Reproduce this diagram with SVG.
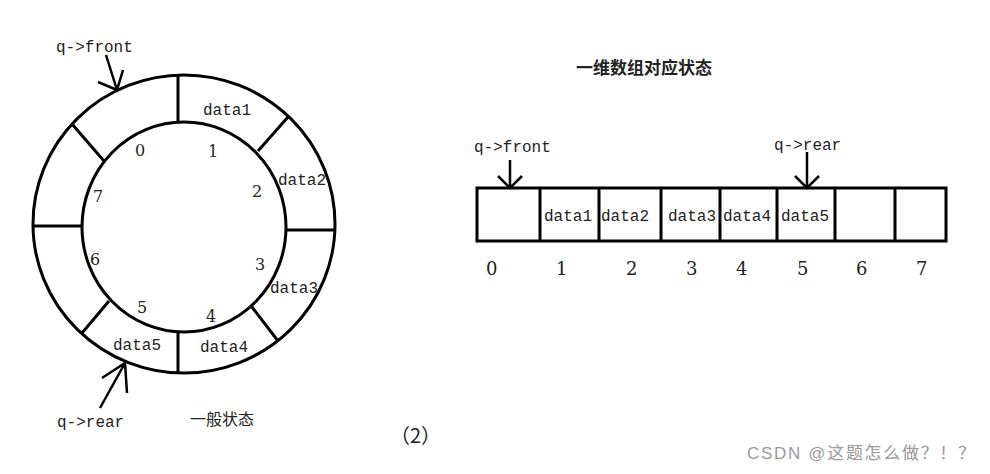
<svg xmlns="http://www.w3.org/2000/svg" width="990" height="474" viewBox="0 0 990 474">
<style>
.s{fill:none;stroke:#000;stroke-width:3}
.a{fill:none;stroke:#000;stroke-width:2.5}
text{font-family:"Liberation Mono","DejaVu Sans Mono","Noto Sans CJK SC",monospace;font-size:16px;fill:#222}
.n{font-family:"DejaVu Serif","Liberation Serif",serif;font-size:16px}
.b{font-size:18px}
.c{font-family:"Noto Sans CJK SC",sans-serif}
</style>
<rect width="990" height="474" fill="#fff"/>
<g id="ring">
<ellipse class="s" cx="184" cy="224" rx="151" ry="149"/>
<ellipse class="s" cx="184" cy="227" rx="102" ry="105"/>
<path class="s" d="M178,75V123M72,124L104,161M288,117L258,151M33,226H82M287,230H335M109,301L82,333M252,307L278,341M178,333V373"/>
</g>
<g id="ringlabels">
<text x="56" y="52">q-&gt;front</text>
<text x="203" y="115">data1</text>
<text x="278" y="185">data2</text>
<text x="270" y="293">data3</text>
<text x="200" y="352">data4</text>
<text x="113" y="350">data5</text>
<text x="57" y="427">q-&gt;rear</text>
<text class="c" x="190" y="425">一般状态</text>
<text class="n" x="135" y="156">0</text>
<text class="n" x="208" y="157">1</text>
<text class="n" x="252" y="197">2</text>
<text class="n" x="255" y="270">3</text>
<text class="n" x="206" y="322">4</text>
<text class="n" x="137" y="313">5</text>
<text class="n" x="90" y="265">6</text>
<text class="n" x="93" y="202">7</text>
</g>
<g id="array">
<rect class="s" x="477" y="188" width="469" height="53"/>
<path class="s" d="M540,188V241M599,188V241M661,188V241M720,188V241M777,188V241M835,188V241M895,188V241"/>
<text x="544" y="221">data1</text>
<text x="601" y="221">data2</text>
<text x="668" y="221">data3</text>
<text x="723" y="221">data4</text>
<text x="781" y="221">data5</text>
<text class="n b" x="486" y="275">0</text>
<text class="n b" x="556" y="275">1</text>
<text class="n b" x="626" y="275">2</text>
<text class="n b" x="686" y="275">3</text>
<text class="n b" x="736" y="275">4</text>
<text class="n b" x="797" y="275">5</text>
<text class="n b" x="856" y="275">6</text>
<text class="n b" x="916" y="275">7</text>
<text x="474" y="152">q-&gt;front</text>
<text x="774" y="150">q-&gt;rear</text>
<text class="c" x="576" y="74" style="font-weight:bold;font-size:17px">一维数组对应状态</text>
</g>
<g id="connectors">
<path class="a" d="M106,55L117,90M98,82L117,90L123,70"/>
<path class="a" d="M100,408L125,363M102,378L125,363L127,393"/>
<path class="a" d="M510,160V188M498,176L510,188L522,176"/>
<path class="a" d="M807,152V188M795,176L807,188L819,176"/>
</g>
<text class="c" x="390" y="443" style="font-size:20px">（2）</text>
<text x="747" y="459" textLength="228" style="font-family:'Liberation Sans','Noto Sans CJK SC',sans-serif;font-size:17px;fill:#999">CSDN @这题怎么做？！？</text>
</svg>
